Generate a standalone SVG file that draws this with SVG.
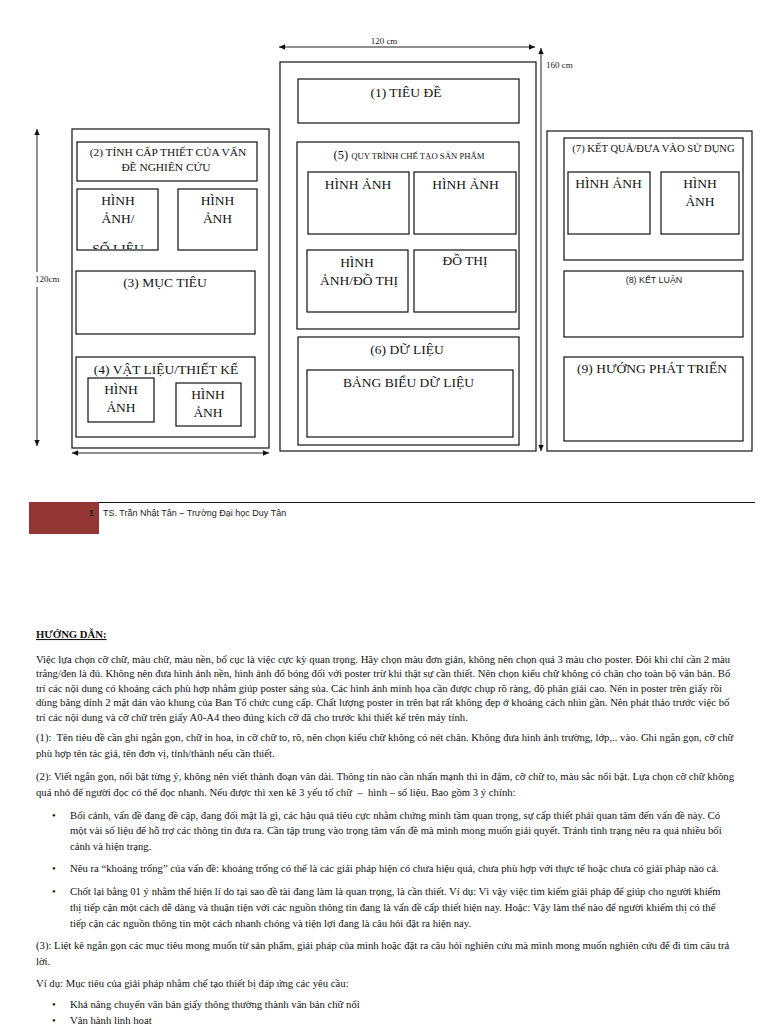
<svg xmlns="http://www.w3.org/2000/svg" width="768" height="1024" viewBox="0 0 768 1024">
<style>
.bx{fill:none;stroke:#111;stroke-width:1.2}
.t{font-family:"Liberation Serif","Times New Roman",serif;fill:#111;text-anchor:middle}
.l{font-size:13.5px}
.s{font-size:11.4px}
.dim{font-family:"Liberation Serif",serif;font-size:9px;fill:#222}
.cal{font-family:"Liberation Sans",Arial,sans-serif;fill:#222}
.b{font-family:"Liberation Serif","Times New Roman",serif;font-size:10.7px;fill:#111}
.cn{stroke:#222;stroke-width:1;fill:none}
</style>
<defs>
<marker id="ah" viewBox="0 0 10 10" refX="10" refY="5" markerWidth="7" markerHeight="6" markerUnits="userSpaceOnUse" orient="auto-start-reverse"><path d="M0,0.5 L10,5 L0,9.5 z" fill="#111"/></marker>
<clipPath id="clipL"><rect x="77" y="189" width="81" height="60"/></clipPath>
</defs>
<rect width="768" height="1024" fill="#fff"/>

<g id="connectors">
<line class="cn" x1="72" y1="453" x2="269" y2="453" marker-start="url(#ah)" marker-end="url(#ah)"/>
<line class="cn" x1="37" y1="129" x2="37" y2="272" marker-start="url(#ah)"/>
<line class="cn" x1="37" y1="287" x2="37" y2="446" marker-end="url(#ah)"/>
<line class="cn" x1="279" y1="47" x2="535" y2="47" marker-start="url(#ah)" marker-end="url(#ah)"/>
<line class="cn" x1="541" y1="48" x2="541" y2="451" marker-start="url(#ah)" marker-end="url(#ah)"/>
<text class="dim" x="35" y="282">120cm</text>
<text class="dim" x="384" y="44" text-anchor="middle">120 cm</text>
<text class="dim" x="546" y="68">160 cm</text>
</g>

<g id="panel-left">
<rect class="bx" x="72" y="129" width="197" height="319"/>
</g>
<g id="box2">
<rect class="bx" x="77" y="142" width="180" height="39"/>
<text class="t s" x="168" y="156">(2) TÍNH CẤP THIẾT CỦA VẤN</text>
<text class="t s" x="166" y="171">ĐỀ NGHIÊN CỨU</text>
</g>
<g id="box2-img1">
<rect class="bx" x="77" y="189" width="81" height="61"/>
<text class="t l" x="118" y="205">HÌNH</text>
<text class="t l" x="118" y="223">ẢNH/</text>
<text class="t l" x="118" y="253" clip-path="url(#clipL)">SỐ LIỆU</text>
</g>
<g id="box2-img2">
<rect class="bx" x="178" y="189" width="79" height="61"/>
<text class="t l" x="217.5" y="205">HÌNH</text>
<text class="t l" x="217.5" y="223">ẢNH</text>
</g>
<g id="box3">
<rect class="bx" x="76" y="271" width="179" height="63"/>
<text class="t l" x="165" y="287">(3) MỤC TIÊU</text>
</g>
<g id="box4">
<rect class="bx" x="76" y="357" width="179" height="80"/>
<text class="t l" x="166" y="374">(4) VẬT LIỆU/THIẾT KẾ</text>
</g>
<g id="box4-img1">
<rect class="bx" x="88" y="378" width="66" height="44"/>
<text class="t l" x="121" y="394">HÌNH</text>
<text class="t l" x="121" y="412">ẢNH</text>
</g>
<g id="box4-img2">
<rect class="bx" x="176" y="383" width="65" height="43"/>
<text class="t l" x="208" y="399">HÌNH</text>
<text class="t l" x="208" y="417">ẢNH</text>
</g>

<g id="panel-center">
<rect class="bx" x="280" y="62" width="256" height="389"/>
</g>
<g id="box1">
<rect class="bx" x="298" y="79" width="221" height="44"/>
<text class="t l" x="406" y="97">(1) TIÊU ĐỀ</text>
</g>
<g id="box5">
<rect class="bx" x="297" y="142" width="222" height="187"/>
<text class="t" x="409" y="159"><tspan font-size="12.5">(5) </tspan><tspan font-size="8.7">QUY TRÌNH CHẾ TẠO SẢN PHẨM</tspan></text>
</g>
<g id="box5-img1">
<rect class="bx" x="308" y="172" width="101" height="62"/>
<text class="t l" x="358" y="189">HÌNH ẢNH</text>
</g>
<g id="box5-img2">
<rect class="bx" x="414" y="172" width="102" height="62"/>
<text class="t l" x="465.5" y="189">HÌNH ẢNH</text>
</g>
<g id="box5-img3">
<rect class="bx" x="307" y="250" width="101" height="62"/>
<text class="t l" x="357" y="267">HÌNH</text>
<text class="t l" x="359" y="285">ẢNH/ĐỒ THỊ</text>
</g>
<g id="box5-img4">
<rect class="bx" x="414" y="250" width="102" height="62"/>
<text class="t l" x="465" y="265">ĐỒ THỊ</text>
</g>
<g id="box6">
<rect class="bx" x="298" y="337" width="221" height="108"/>
<text class="t l" x="407" y="354">(6) DỮ LIỆU</text>
</g>
<g id="box6-table">
<rect class="bx" x="307" y="370" width="206" height="67"/>
<text class="t l" x="408.5" y="387">BẢNG BIỂU DỮ LIỆU</text>
</g>

<g id="panel-right">
<rect class="bx" x="547" y="131" width="205" height="320"/>
</g>
<g id="box7">
<rect class="bx" x="564" y="138" width="179" height="122"/>
<text class="t" x="653.5" y="152" font-size="10.6">(7) KẾT QUẢ/ĐƯA VÀO SỬ DỤNG</text>
</g>
<g id="box7-img1">
<rect class="bx" x="568" y="172" width="82" height="62"/>
<text class="t l" x="608.5" y="188">HÌNH ẢNH</text>
</g>
<g id="box7-img2">
<rect class="bx" x="661" y="172" width="78" height="62"/>
<text class="t l" x="700" y="188">HÌNH</text>
<text class="t l" x="700" y="206">ẢNH</text>
</g>
<g id="box8">
<rect class="bx" x="564" y="271" width="179" height="66"/>
<text class="cal" x="654" y="283" font-size="8.9" text-anchor="middle">(8) KẾT LUẬN</text>
</g>
<g id="box9">
<rect class="bx" x="564" y="357" width="179" height="84"/>
<text class="t l" x="652" y="373">(9) HƯỚNG PHÁT TRIỂN</text>
</g>

<g id="footer">
<rect x="29" y="502" width="70" height="32" fill="#943634"/>
<line x1="99" y1="502.5" x2="755" y2="502.5" stroke="#111" stroke-width="1"/>
<text class="cal" x="94" y="516" font-size="9" text-anchor="end" font-weight="bold" fill="#111">1</text>
<text class="cal" x="103" y="516" font-size="9">TS. Trần Nhật Tân – Trường Đại học Duy Tân</text>
</g>

<g id="guide">
<text class="b" x="36" y="638" font-weight="bold" text-decoration="underline">HƯỚNG DẪN:</text>
<text class="b" x="36" y="662.5">Việc lựa chọn cỡ chữ, màu chữ, màu nền, bố cục là việc cực kỳ quan trọng. Hãy chọn màu đơn giản, không nên chọn quá 3 màu cho poster. Đôi khi chỉ cần 2 màu</text>
<text class="b" x="36" y="677">trắng/đen là đủ. Không nên đưa hình ảnh nền, hình ảnh đổ bóng đối với poster trừ khi thật sự cần thiết. Nên chọn kiểu chữ không có chân cho toàn bộ văn bản. Bố</text>
<text class="b" x="36" y="691.5">trí các nội dung có khoảng cách phù hợp nhằm giúp poster sáng sủa. Các hình ảnh minh họa cần được chụp rõ ràng, độ phân giải cao. Nên in poster trên giấy rồi</text>
<text class="b" x="36" y="706">dùng băng dính 2 mặt dán vào khung của Ban Tổ chức cung cấp. Chất lượng poster in trên bạt rất không đẹp ở khoảng cách nhìn gần. Nên phát thảo trước việc bố</text>
<text class="b" x="36" y="720.5">trí các nội dung và cỡ chữ trên giấy A0-A4 theo đúng kích cỡ đã cho trước khi thiết kế trên máy tính.</text>
<text class="b" x="36" y="741" xml:space="preserve">(1):  Tên tiêu đề cần ghi ngắn gọn, chữ in hoa, in cỡ chữ to, rõ, nên chọn kiểu chữ không có nét chân. Không đưa hình ảnh trường, lớp,.. vào. Ghi ngắn gọn, cỡ chữ</text>
<text class="b" x="36" y="756.5">phù hợp tên tác giả, tên đơn vị, tỉnh/thành nếu cần thiết.</text>
<text class="b" x="36" y="779.5">(2): Viết ngắn gọn, nổi bật từng ý, không nên viết thành đoạn văn dài. Thông tin nào cần nhấn mạnh thì in đậm, cỡ chữ to, màu sắc nổi bật. Lựa chọn cỡ chữ không</text>
<text class="b" x="36" y="795.5" xml:space="preserve">quá nhỏ để người đọc có thể đọc nhanh. Nếu được thì xen kẽ 3 yếu tố chữ  –  hình – số liệu. Bao gồm 3 ý chính:</text>
<text class="b" x="52" y="818.5">•</text>
<text class="b" x="70" y="818.5">Bối cảnh, vấn đề đang đề cập, đang đối mặt là gì, các hậu quả tiêu cực nhằm chứng minh tầm quan trọng, sự cấp thiết phải quan tâm đến vấn đề này. Có</text>
<text class="b" x="70" y="833.5">một vài số liệu để hỗ trợ các thông tin đưa ra. Cần tập trung vào trọng tâm vấn đề mà mình mong muốn giải quyết. Tránh tình trạng nêu ra quá nhiều bối</text>
<text class="b" x="70" y="849.5">cảnh và hiện trạng.</text>
<text class="b" x="52" y="871.5">•</text>
<text class="b" x="70" y="871.5">Nêu ra “khoảng trống” của vấn đề: khoảng trống có thể là các giải pháp hiện có chưa hiệu quả, chưa phù hợp với thực tế hoặc chưa có giải pháp nào cả.</text>
<text class="b" x="52" y="894.5">•</text>
<text class="b" x="70" y="894.5">Chốt lại bằng 01 ý nhằm thể hiện lí do tại sao đề tài đang làm là quan trọng, là cần thiết. Ví dụ: Vì vậy việc tìm kiếm giải pháp để giúp cho người khiếm</text>
<text class="b" x="70" y="910.5">thị tiếp cận một cách dễ dàng và thuận tiện với các nguồn thông tin đang là vấn đề cấp thiết hiện nay. Hoặc: Vậy làm thế nào để người khiếm thị có thể</text>
<text class="b" x="70" y="926.5">tiếp cận các nguồn thông tin một cách nhanh chóng và tiện lợi đang là câu hỏi đặt ra hiện nay.</text>
<text class="b" x="36" y="948.5">(3): Liệt kê ngắn gọn các mục tiêu mong muốn từ sản phẩm, giải pháp của mình hoặc đặt ra câu hỏi nghiên cứu mà mình mong muốn nghiên cứu để đi tìm câu trả</text>
<text class="b" x="36" y="964.5">lời.</text>
<text class="b" x="36" y="986.5">Ví dụ: Mục tiêu của giải pháp nhằm chế tạo thiết bị đáp ứng các yêu cầu:</text>
<text class="b" x="52" y="1007.5">•</text>
<text class="b" x="70" y="1007.5">Khả năng chuyển văn bản giấy thông thường thành văn bản chữ nổi</text>
<text class="b" x="52" y="1023.5">•</text>
<text class="b" x="70" y="1023.5">Vận hành linh hoạt</text>
</g>
</svg>
